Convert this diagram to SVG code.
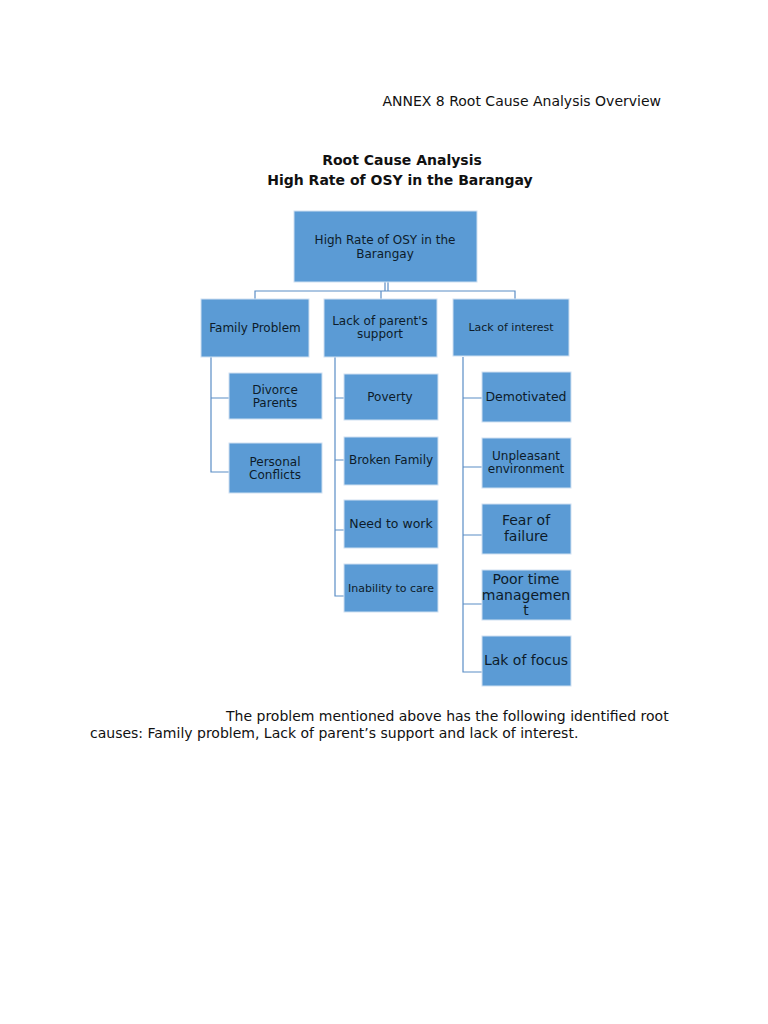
<svg xmlns="http://www.w3.org/2000/svg" width="768" height="1024" viewBox="0 0 768 1024">
<style>
text{font-family:"DejaVu Sans",sans-serif;fill:#111;}
.b rect{fill:#5b9bd5;stroke:#cfe0f1;stroke-width:1}
.b text{text-anchor:middle;fill:#0d1b2a;font-size:12px}
.c path{fill:none;stroke:#5b8ec6;stroke-width:1.2}
</style>
<rect width="768" height="1024" fill="#fff"/>
<text x="661" y="106" font-size="14" text-anchor="end">ANNEX 8 Root Cause Analysis Overview</text>
<text x="402" y="165" font-size="14" font-weight="bold" text-anchor="middle">Root Cause Analysis</text>
<text x="400" y="185" font-size="14" font-weight="bold" text-anchor="middle">High Rate of OSY in the Barangay</text>
<g class="c">
<path d="M385 282V291M388 282V291M255 299V291H515V299M381 291V299"/>
<path d="M211 357V472H229M211 398H229"/>
<path d="M335 357V596H344M335 398H344M335 460H344M335 530H344"/>
<path d="M463 357V672H482M463 398H482M463 467H482M463 535H482M463 604H482"/>
</g>
<g class="b" id="root"><rect x="294" y="211" width="183" height="71"/><text x="385" y="244">High Rate of OSY in the</text><text x="385" y="258">Barangay</text></g>
<g class="b" id="family"><rect x="201" y="299" width="108" height="58"/><text x="255" y="332">Family Problem</text></g>
<g class="b" id="parent"><rect x="324" y="299" width="113" height="58"/><text x="380" y="325">Lack of parent's</text><text x="380" y="338">support</text></g>
<g class="b" id="interest"><rect x="453" y="299" width="116" height="57"/><text x="511" y="331" style="font-size:11px">Lack of interest</text></g>
<g class="b" id="divorce"><rect x="229" y="373" width="93" height="46"/><text x="275" y="394">Divorce</text><text x="275" y="407">Parents</text></g>
<g class="b" id="personal"><rect x="229" y="443" width="93" height="50"/><text x="275" y="466">Personal</text><text x="275" y="479">Conflicts</text></g>
<g class="b" id="poverty"><rect x="344" y="374" width="94" height="46"/><text x="390" y="401">Poverty</text></g>
<g class="b" id="broken"><rect x="344" y="437" width="94" height="48"/><text x="391" y="464">Broken Family</text></g>
<g class="b" id="need"><rect x="344" y="500" width="94" height="48"/><text x="391" y="528" style="font-size:12.5px">Need to work</text></g>
<g class="b" id="inability"><rect x="344" y="564" width="94" height="48"/><text x="391" y="592" style="font-size:11px">Inability to care</text></g>
<g class="b" id="demotivated"><rect x="482" y="372" width="89" height="50"/><text x="526" y="401" style="font-size:12.5px">Demotivated</text></g>
<g class="b" id="unpleasant"><rect x="482" y="438" width="89" height="50"/><text x="526" y="460">Unpleasant</text><text x="526" y="473">environment</text></g>
<g class="b" id="fear"><rect x="482" y="504" width="89" height="50"/><text x="526" y="525" style="font-size:14px">Fear of</text><text x="526" y="541" style="font-size:14px">failure</text></g>
<g class="b" id="poor"><rect x="482" y="570" width="89" height="50"/><text x="526" y="584" style="font-size:14px">Poor time</text><text x="526" y="600" style="font-size:14px">managemen</text><text x="526" y="615" style="font-size:14px">t</text></g>
<g class="b" id="lak"><rect x="482" y="636" width="89" height="50"/><text x="526" y="665" style="font-size:14px">Lak of focus</text></g>
<text x="226" y="721" font-size="14">The problem mentioned above has the following identified root</text>
<text x="90" y="738" font-size="14">causes: Family problem, Lack of parent’s support and lack of interest.</text>
</svg>
